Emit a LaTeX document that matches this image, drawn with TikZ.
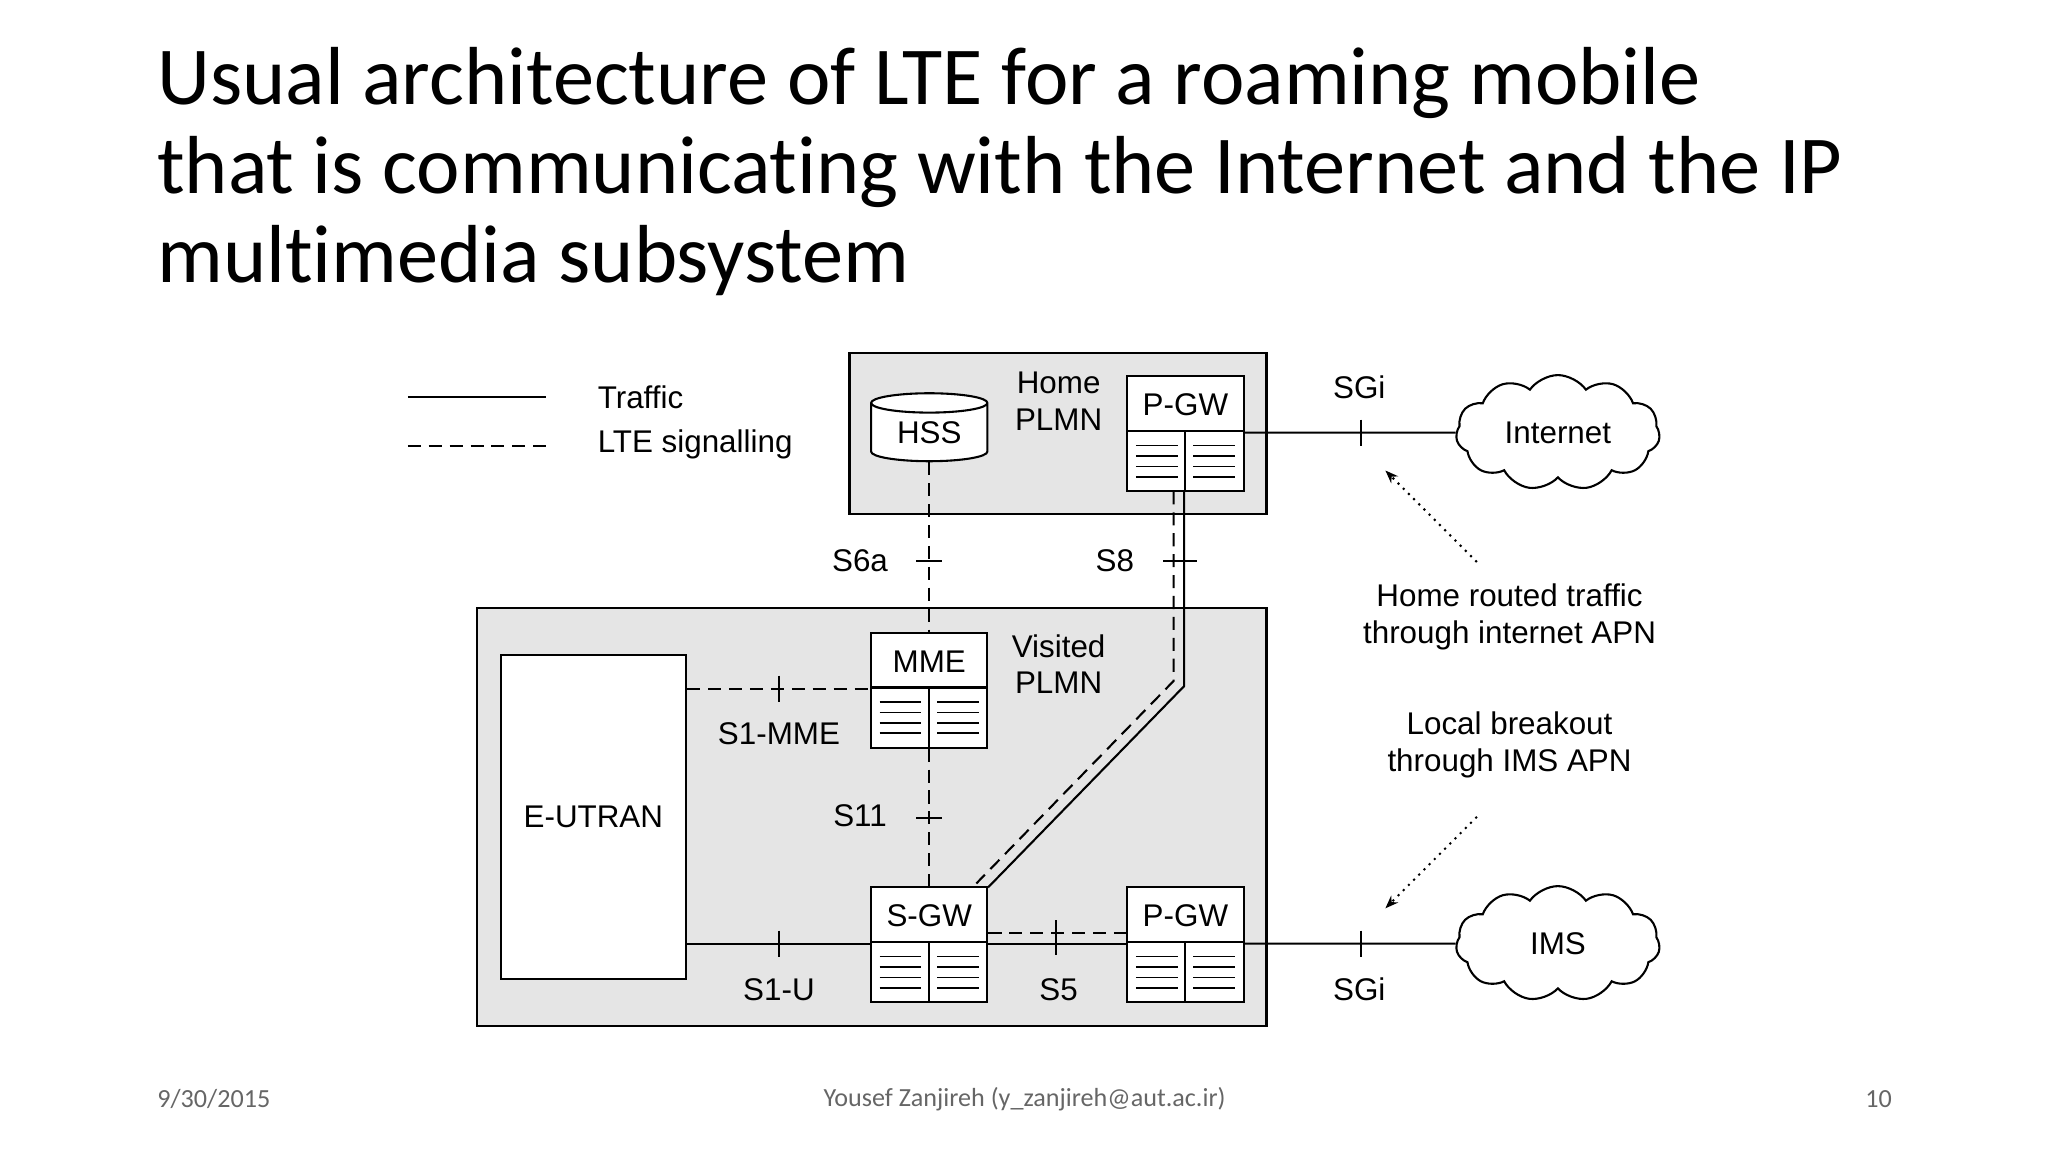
\documentclass[tikz,border=0pt]{standalone}
\usepackage{fontspec}
\setmainfont{Liberation Sans}
\newfontfamily\titlefont[Ligatures=NoCommon]{Carlito}
\usetikzlibrary{shapes.symbols,shapes.geometric,arrows.meta}
\begin{document}
\begin{tikzpicture}[x=0.5pt,y=-0.5pt,
  every node/.style={font=\fontsize{12}{14}\selectfont, inner sep=0pt},
  area/.style={draw, line width=0.8pt, fill=black!10},
  gwbox/.style={draw, line width=0.8pt, fill=white, minimum width=44.5pt, minimum height=44pt},
  traffic/.style={line width=0.8pt},
  sig/.style={line width=0.8pt, dash pattern=on 5pt off 3pt},
  tick/.style={line width=0.8pt},
  note/.style={dotted, line width=0.8pt, -{Stealth[length=5pt]}},
  ttl/.style={font=\titlefont\fontsize{31.5}{36}\selectfont, anchor=base west},
  foot/.style={font=\titlefont\fontsize{10}{12}\selectfont, text=black!60}]
\useasboundingbox (0,0) rectangle (1567,881);
\newcommand\gwcell[4]{% name, x, y, label
  \node[gwbox] (#1) at (#2,#3) {};
  \draw[line width=0.8pt] (#2-44.5,#3-2) -- (#2+44.5,#3-2);
  \draw[line width=0.8pt] (#2,#3-2) -- (#2,#3+44);
  \foreach \k in {0,1,2,3}{
    \draw[line width=0.6pt] (#2-38,#3+9+\k*8) -- (#2-6,#3+9+\k*8);
    \draw[line width=0.6pt] (#2+6,#3+9+\k*8) -- (#2+38,#3+9+\k*8);}
  \node (#1-t) at (#2,#3-22) {#4};}
% title
\node[ttl] (t1) at (120,80) {Usual architecture of LTE for a roaming mobile};
\node[ttl] (t2) at (120,148) {that is communicating with the Internet and the IP};
\node[ttl] (t3) at (120,216) {multimedia subsystem};
% legend
\coordinate (l1a) at (312,304); \coordinate (l1b) at (418,304);
\coordinate (l2a) at (312,341); \coordinate (l2b) at (418,341);
\draw[traffic] (l1a) -- (l1b);
\draw[sig] (l2a) -- (l2b);
\node[anchor=west] (lt) at (457,304) {Traffic};
\node[anchor=west] (ls) at (457,340) {LTE signalling};
% areas
\node[area, minimum width=159.5pt, minimum height=61.5pt] (home) at (809.5,331.5) {};
\node[area, minimum width=302pt, minimum height=160pt] (visited) at (667,625) {};
\node[align=center] (hpl) at (810,307) {Home\\PLMN};
\node[align=center] (vpl) at (810,508) {Visited\\PLMN};
% HSS
\node[cylinder, shape border rotate=90, draw, line width=0.8pt, fill=white,
  minimum width=44.5pt, minimum height=26pt, aspect=0.3] (hss) at (711,331) {HSS};
% gateways
\gwcell{pgwh}{907}{332}{P-GW}
\gwcell{mme}{711}{528}{MME}
\gwcell{sgw}{711}{723}{S-GW}
\gwcell{pgwv}{907}{723}{P-GW}
% E-UTRAN
\node[draw, line width=0.8pt, fill=white, minimum width=71pt, minimum height=124pt] (eutran) at (454,625) {E-UTRAN};
% clouds
\node[cloud, cloud puffs=11, cloud puff arc=110, aspect=2, draw, line width=0.8pt, fill=white,
  minimum width=78pt, minimum height=44pt] (inet) at (1192,331) {Internet};
\node[cloud, cloud puffs=11, cloud puff arc=110, aspect=2, draw, line width=0.8pt, fill=white,
  minimum width=78pt, minimum height=44pt] (ims) at (1192,722) {IMS};
% S6a
\draw[sig] (hss.bottom) -- (mme.north);
\draw[tick] (701,429) -- (721,429);
\node (s6a) at (658,429) {S6a};
% S8
\coordinate (s8a) at (906,376); \coordinate (s8b) at (906,525); \coordinate (s8c) at (756,679);
\coordinate (s8d) at (898,376); \coordinate (s8e) at (898,521); \coordinate (s8f) at (747,676);
\draw[traffic] (s8a) -- (s8b) -- (s8c);
\draw[sig] (s8d) -- (s8e) -- (s8f);
\draw[tick] (890,429) -- (916,429);
\node (s8) at (853,429) {S8};
% S1-MME
\draw[sig] (eutran.east |- 0,527) -- (mme.west |- 0,527);
\draw[tick] (596,517) -- (596,537);
\node (s1mme) at (596,561) {S1-MME};
% S11
\draw[sig] (mme.south) -- (sgw.north);
\draw[tick] (701,626) -- (721,626);
\node (s11) at (658,624) {S11};
% S1-U
\draw[traffic] (eutran.east |- 0,722) -- (sgw.west |- 0,722);
\draw[tick] (596,712) -- (596,732);
\node (s1u) at (596,757) {S1-U};
% S5
\draw[sig] (sgw.east |- 0,714) -- (pgwv.west |- 0,714);
\draw[traffic] (sgw.east |- 0,722) -- (pgwv.west |- 0,722);
\draw[tick] (808,704) -- (808,731);
\node (s5) at (810,757) {S5};
% SGi
\draw[traffic] (pgwh.east |- 0,331) -- (inet.west);
\draw[tick] (1041,321) -- (1041,341);
\node (sgi1) at (1040,296) {SGi};
\draw[traffic] (pgwv.east |- 0,722) -- (ims.west);
\draw[tick] (1041,712) -- (1041,732);
\node (sgi2) at (1040,757) {SGi};
% notes
\node[align=center] (n1) at (1155,472) {Home routed traffic\\through internet APN};
\node[align=center] (n2) at (1155,570) {Local breakout\\through IMS APN};
\coordinate (a1s) at (1130,430); \coordinate (a1e) at (1060,360);
\coordinate (a2s) at (1130,625); \coordinate (a2e) at (1060,695);
\draw[note] (a1s) -- (a1e);
\draw[note] (a2s) -- (a2e);
% footer
\node[foot, anchor=west] (f1) at (120,841) {9/30/2015};
\node[foot] (f2) at (784,841) {Yousef Zanjireh (y\_zanjireh@aut.ac.ir)};
\node[foot, anchor=east] (f3) at (1448,841) {10};
\end{tikzpicture}
\end{document}
